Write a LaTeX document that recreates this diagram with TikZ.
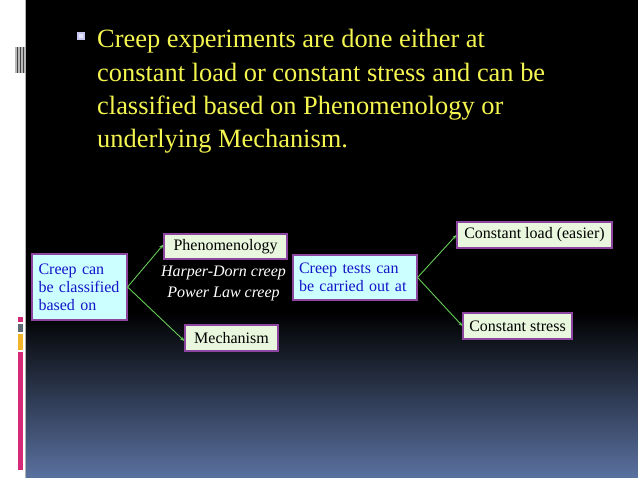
\documentclass[tikz,border=0pt]{standalone}
\usepackage{fontspec}
\setmainfont{Liberation Serif}
\usetikzlibrary{arrows.meta}
\definecolor{titleyellow}{RGB}{245,245,80}
\definecolor{boxcyan}{RGB}{204,255,255}
\definecolor{boxgreen}{RGB}{232,247,222}
\definecolor{boxborder}{RGB}{140,70,160}
\definecolor{boxblue}{RGB}{20,20,200}
\definecolor{arrowgreen}{RGB}{100,205,85}
\definecolor{bottomblue}{RGB}{90,113,160}
\definecolor{accentpink}{RGB}{214,40,120}
\definecolor{accentyellow}{RGB}{242,180,40}
\definecolor{accentgrey}{RGB}{95,105,115}
\tikzset{
  titleline/.style={anchor=base west, inner sep=0pt, text=titleyellow, font=\fontsize{26.4}{33.5}\selectfont},
  cyanbox/.style={draw=boxborder, line width=1.1pt, fill=boxcyan, text=boxblue, align=left,
    font=\fontsize{16}{18}\selectfont, inner xsep=0pt, inner ysep=0pt},
  greenbox/.style={draw=boxborder, line width=1.1pt, fill=boxgreen, text=black,
    font=\fontsize{16}{18}\selectfont, inner sep=0pt},
  note/.style={text=white, font=\fontsize{16}{18}\selectfont\itshape, anchor=base, inner sep=0pt},
  link/.style={draw=arrowgreen, line width=0.9pt, -{Stealth[length=4.5pt,width=3.5pt]}}
}
\begin{document}
\begin{tikzpicture}[x=1pt,y=-1pt]
\useasboundingbox (0,0) rectangle (638,478);
% background
\fill[white] (0,0) rectangle (26,478);
\fill[black] (26,0) rectangle (638,478);
\shade[top color=black, bottom color=bottomblue] (26,312) rectangle (638,478);
\draw[gray!60, line width=0.8pt] (25.6,0) -- (25.6,478);
% top-left bars
\fill[gray!55] (15,47) rectangle (25,73);
\fill[black!75] (16.5,47) rectangle (18,73);
\fill[black!75] (19.5,47) rectangle (21,73);
\fill[black!75] (22.5,47) rectangle (24,73);
% left accent strip
\fill[accentpink] (18,317) rectangle (23,322);
\fill[accentgrey] (18,324) rectangle (23,332);
\fill[accentyellow] (18,334) rectangle (23,350);
\fill[accentpink] (18,352) rectangle (23,470);
% bullet
\fill[gray!50!blue!30] (77,32) rectangle (85,40);
\fill[white!90!blue] (78.8,33.8) rectangle (83.2,38.2);
% title
\node[titleline] (t1) at (97,48) {Creep experiments are done either at};
\node[titleline] (t2) at (97,82) {constant load or constant stress and can be};
\node[titleline] (t3) at (97,115) {classified based on Phenomenology or};
\node[titleline] (t4) at (97,148) {underlying Mechanism.};
% boxes
\node[cyanbox, minimum width=95pt, minimum height=66pt, text width=82pt] (classify) at (79.5,287)
  {Creep can\\be classified\\based on};
\node[greenbox, minimum width=123pt, minimum height=25pt] (pheno) at (225.5,246.5) {Phenomenology};
\node[note] (hd) at (223.5,277) {Harper-Dorn creep};
\node[note] (pl) at (223.5,298) {Power Law creep};
\node[greenbox, minimum width=93pt, minimum height=26pt] (mech) at (231.5,338) {Mechanism};
\node[cyanbox, minimum width=124pt, minimum height=45pt, text width=112pt] (tests) at (355,277.5)
  {Creep tests can\\be carried out at};
\node[greenbox, minimum width=155pt, minimum height=26pt] (load) at (534.5,235) {Constant load (easier)};
\node[greenbox, minimum width=109pt, minimum height=26pt] (stress) at (517.5,326) {Constant stress};
% arrows
\draw[link] (classify.east) -- ([yshift=2pt]pheno.west);
\draw[link] (classify.east) -- ([yshift=-3pt]mech.west);
\draw[link] (tests.east) -- (load.west);
\draw[link] (tests.east) -- (stress.west);
\end{tikzpicture}
\end{document}
